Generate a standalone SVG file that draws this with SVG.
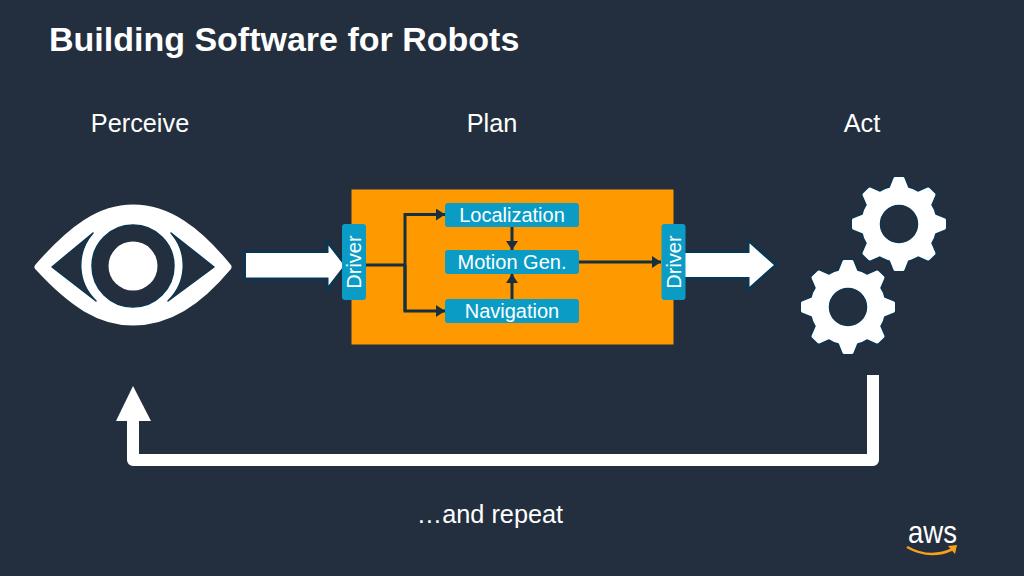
<svg xmlns="http://www.w3.org/2000/svg" width="1024" height="576" viewBox="0 0 1024 576">
<defs>
<style>
text{font-family:"Liberation Sans",Arial,sans-serif}
.h{font-size:25.3px;fill:#fff;text-anchor:middle}
.b{fill:#0b9cc6}
.l{font-size:20px;fill:#fff;text-anchor:middle}
.c{fill:none;stroke:#17303f;stroke-width:3}
.w{fill:#fff;stroke:#0c3550;stroke-width:3;stroke-linejoin:miter}
.halo{fill:#0c3550;stroke:#0c3550;stroke-width:6;stroke-linejoin:round}
.gw{fill:#fff;stroke:#fff;stroke-width:3;stroke-linejoin:round}
.hole{fill:#232f3e;stroke:#0c3550;stroke-width:1.5}
</style>
<marker id="ah" markerUnits="userSpaceOnUse" markerWidth="10" markerHeight="12" refX="9" refY="6" orient="auto"><path d="M0 0L9 6L0 12Z" fill="#17303f"/></marker>
<g id="tooth"><polygon points="-9,-33 -4,-45.500 4,-45.500 9,-33"/></g>
<g id="gearshape">
<circle r="36"/>
<use href="#tooth"/>
<use href="#tooth" transform="rotate(45)"/>
<use href="#tooth" transform="rotate(90)"/>
<use href="#tooth" transform="rotate(135)"/>
<use href="#tooth" transform="rotate(180)"/>
<use href="#tooth" transform="rotate(225)"/>
<use href="#tooth" transform="rotate(270)"/>
<use href="#tooth" transform="rotate(315)"/>
</g>
</defs>
<rect width="1024" height="576" fill="#232f3e"/>
<text x="49" y="51" font-size="34" font-weight="700" fill="#fff">Building Software for Robots</text>
<text class="h" x="140" y="132">Perceive</text>
<text class="h" x="492" y="132">Plan</text>
<text class="h" x="862" y="132">Act</text>
<g id="eye">
<path d="M38 267C72 228 100 208 133 208C168 208 198 230 228 267C198 303 168 322 133 322C100 322 72 304 38 267Z" fill="#fff" stroke="#fff" stroke-width="7" stroke-linejoin="round"/>
<path d="M52 267L93 233A49 49 0 0 0 96 301Z" fill="#232f3e" stroke="#0c3550" stroke-width="1.500" stroke-linejoin="round"/>
<path d="M214 267L171 233A49 49 0 0 1 168 301Z" fill="#232f3e" stroke="#0c3550" stroke-width="1.500" stroke-linejoin="round"/>
<circle cx="133" cy="266" r="41" fill="#232f3e" stroke="#0c3550" stroke-width="1.500"/>
<circle cx="133" cy="266" r="24.500" fill="#fff"/>
</g>
<g id="plan-box"><rect x="351.500" y="189.500" width="322" height="155" fill="#ff9900"/></g>
<g id="gear-top" transform="translate(899 224)">
<use href="#gearshape" class="halo"/><use href="#gearshape" class="gw"/><circle class="hole" r="18.500"/>
</g>
<g id="gear-bottom" transform="translate(848 307)">
<use href="#gearshape" class="halo"/><use href="#gearshape" class="gw"/><circle class="hole" r="18.500"/>
</g>
<g id="connectors">
<path class="w" d="M244.500 251.500H327V241L346 265.500L327 290V279H244.500Z"/>
<path class="w" d="M680 251.500H748V240L776 265L748 290V278.500H680Z"/>
<path d="M873 375V460H133V415" fill="none" stroke="#fff" stroke-width="12" stroke-linejoin="round"/>
<path d="M133 386L151 421H116Z" fill="#fff"/>
<path class="c" d="M366 265H405"/>
<path class="c" d="M405 311V214.500H445" marker-end="url(#ah)"/>
<path class="c" d="M405 265V311H445" marker-end="url(#ah)"/>
<path class="c" d="M512 227V250" marker-end="url(#ah)"/>
<path class="c" d="M512 299V274" marker-end="url(#ah)"/>
<path class="c" d="M579 262H661" marker-end="url(#ah)"/>
</g>
<g id="driver-left"><rect class="b" x="342" y="224" width="24" height="76" rx="3"/><text class="l" transform="translate(361 262) rotate(-90)">Driver</text></g>
<g id="driver-right"><rect class="b" x="661.500" y="224" width="24" height="76" rx="3"/><text class="l" transform="translate(680.500 262) rotate(-90)">Driver</text></g>
<g id="localization"><rect class="b" x="445" y="203" width="134" height="24" rx="3"/><text class="l" x="512" y="222">Localization</text></g>
<g id="motion-gen"><rect class="b" x="445" y="250" width="134" height="24" rx="3"/><text class="l" x="512" y="269">Motion Gen.</text></g>
<g id="navigation"><rect class="b" x="445" y="299" width="134" height="24" rx="3"/><text class="l" x="512" y="318">Navigation</text></g>
<text class="h" x="490" y="523">…and repeat</text>
<g id="aws-logo">
<text x="908" y="543" font-size="32" fill="#fff" textLength="49" lengthAdjust="spacingAndGlyphs">aws</text>
<path d="M907 547Q930 560 953 549" fill="none" stroke="#f7a11a" stroke-width="2.500"/>
<path d="M948 546L957 545L955 554Z" fill="#f7a11a"/>
</g>
</svg>
